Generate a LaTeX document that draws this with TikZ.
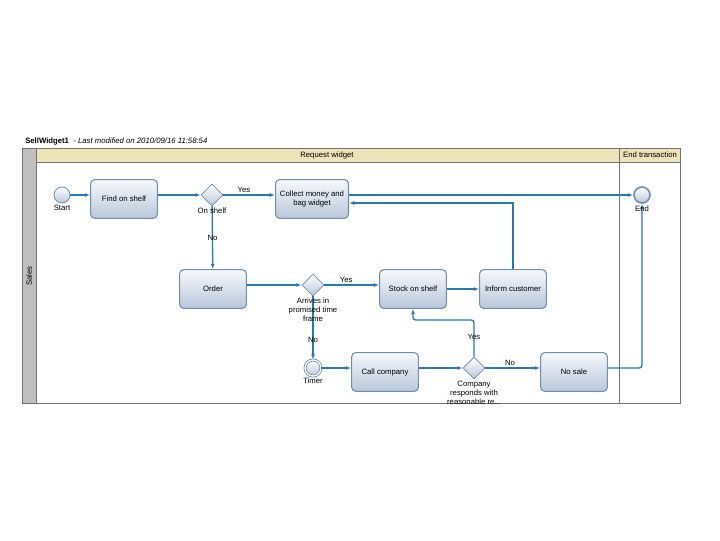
\documentclass[tikz,border=0pt]{standalone}
\usepackage{fontspec}
\setmainfont{Liberation Sans}
\usetikzlibrary{shapes.geometric,arrows.meta}
\definecolor{flow}{HTML}{2A78B4}
\definecolor{nborder}{HTML}{6F8FAE}
\definecolor{ntop}{HTML}{F6F8FB}
\definecolor{nbot}{HTML}{B9C7DA}
\definecolor{hdr}{HTML}{EDE3B8}
\begin{document}
\begin{tikzpicture}[x=0.75pt,y=-0.75pt,
  font=\fontsize{5.8}{6.6}\selectfont,
  task/.style={draw=nborder,line width=0.8pt,rounded corners=3pt,minimum width=50pt,minimum height=29pt,top color=ntop,bottom color=nbot,align=center},
  gate/.style={diamond,draw=nborder,line width=0.6pt,minimum width=16.5pt,minimum height=16.5pt,inner sep=0pt,top color=white,bottom color=nbot},
  ev/.style={circle,draw=nborder,line width=0.6pt,minimum size=12pt,inner sep=0pt,top color=white,bottom color=nbot},
  lab/.style={inner sep=1pt,align=center},
  fl/.style={draw=flow,line width=1pt,-{Latex[length=4pt,width=3pt]}}]
\useasboundingbox (0,0) rectangle (720,540);
% title
\node[anchor=west,inner sep=0pt] (title) at (25,142) {\textbf{SellWidget1}\ \ {\itshape - Last modified on 2010/09/16 11:58:54}};
% pool
\fill[hdr] (36,148) rectangle (680,162);
\fill[black!25] (22,148) rectangle (36,403);
\draw[black!55,line width=0.5pt] (22,148) rectangle (680,403);
\draw[black!55,line width=0.5pt] (36,148) -- (36,403) (36,162) -- (680,162) (619,148) -- (619,403);
\node (h1) at (327,155) {Request widget};
\node (h2) at (650,155) {End transaction};
\node[rotate=90] (sales) at (29,276) {Sales};
% nodes
\node[ev] (start) at (62,195) {};
\node[lab,below] (startl) at (start.south) {Start};
\node[task] (find) at (124,199) {Find on shelf};
\node[gate] (g1) at (212,195) {};
\node[task] (collect) at (312,199) {Collect money and\\bag widget};
\node[ev,line width=1.2pt] (end) at (642,195) {};
\node[task] (order) at (213,289) {Order};
\node[gate] (g2) at (313,285) {};
\node[task] (stock) at (413,289) {Stock on shelf};
\node[task] (inform) at (513,289) {Inform customer};
\node[ev,double,double distance=1pt] (timer) at (313,368) {};
\node[lab,below] (timerl) at (timer.south) {Timer};
\node[task] (call) at (385,372) {Call company};
\node[gate] (g3) at (474,368) {};
\node[lab,below] (g3l) at (g3.south) {Company\\responds with\\reasonable re...};
\node[task] (nosale) at (574,372) {No sale};
% flows
\draw[fl] (start) -- (find.west |- start);
\draw[fl] (find.east |- g1) -- (g1);
\draw[fl] (g1) -- node[lab,above,pos=0.4]{Yes} (collect.west |- g1);
\draw[fl] (collect.east |- end) -- (end);
\draw[fl] (inform.north) |- ([yshift=-3pt]collect.east);
\draw[fl] (g1) -- node[lab,pos=0.5]{No} (order);
\draw[fl] (order.east |- g2) -- (g2);
\draw[fl] (g2) -- node[lab,above,pos=0.4]{Yes} (stock.west |- g2);
\draw[fl] (stock) -- (inform);
\draw[fl] (g2) -- node[lab,pos=0.68]{No} (timer);
\draw[fl] (timer) -- (call.west |- timer);
\draw[fl] (call.east |- g3) -- (g3);
\draw[fl] (g3) -- node[lab,above,pos=0.45]{No} (nosale.west |- g3);
\draw[fl,rounded corners=2pt] (g3.north) -- node[lab,pos=0.55]{Yes} (474,320) -| (stock.south);
\draw[fl,rounded corners=2pt] (nosale.east |- g3) -| (end.south);
% gateway/event labels drawn over flows
\node[lab,below] (endl) at (end.south) {End};
\node[lab] (g1l) at (212,211) {On shelf};
\node[lab,below] (g2l) at (g2.south) {Arrives in\\promised time\\frame};
\end{tikzpicture}
\end{document}
